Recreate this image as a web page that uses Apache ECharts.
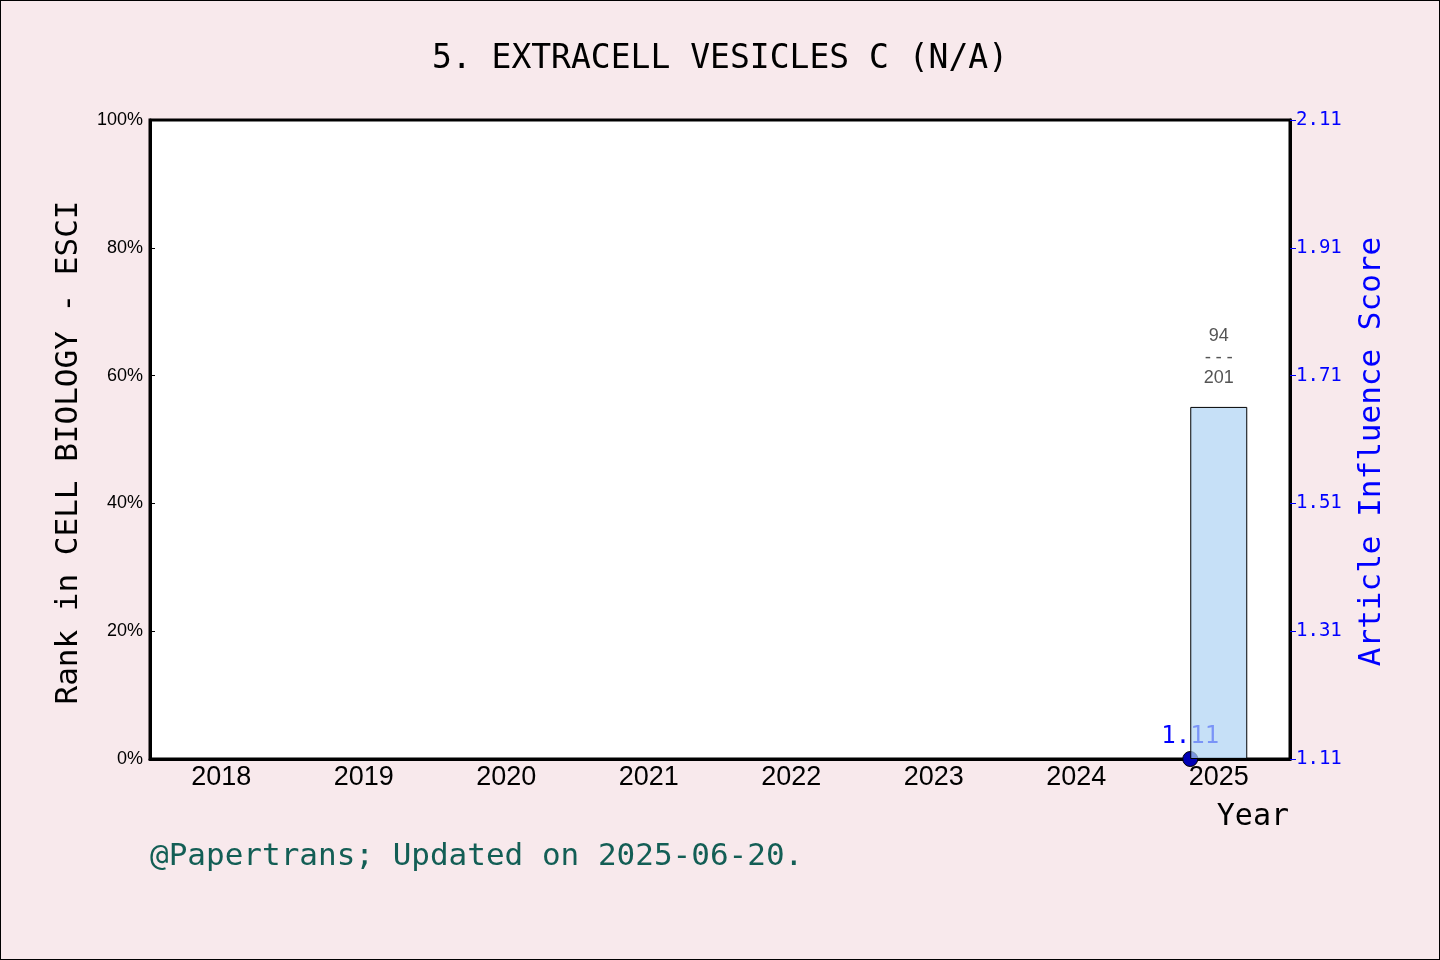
<!DOCTYPE html>
<html>
<head>
<meta charset="utf-8">
<title>Rank chart</title>
<script src="https://cdn.jsdelivr.net/npm/echarts@6/dist/echarts.min.js"></script>
<style>
	html, body { margin: 0; padding: 0; background: #f8e9ec; }
	#main { width: 1440px; height: 960px; box-sizing: border-box; border: 1px solid #000; }
</style>
</head>
<body>
<div id="main"></div>
<script>
//数据
var years = ['2018', '2019', '2020', '2021', '2022', '2023', '2024', '2025'];
var rankPct = [null, null, null, null, null, null, null, 55.1];
var rankNum = ['', '', '', '', '', '', '', '94'];
var rankTotal = ['', '', '', '', '', '', '', '201'];
var aisPoints = [[6.8, 1.11]];
var leftTicks = [0, 20, 40, 60, 80, 100];
var rightTicks = [1.11, 1.31, 1.51, 1.71, 1.91, 2.11];

var mono = '"DejaVu Sans Mono", "Liberation Mono", monospace';
var sans = '"Liberation Sans", Arial, sans-serif';

var myChart = echarts.init(document.getElementById('main'));

var option = {
	backgroundColor: '#f8e9ec',
	title: {
		text: '5. EXTRACELL VESICLES C (N/A)',
		left: 'center',
		top: 37,
		textStyle: { fontFamily: mono, fontSize: 33, fontWeight: 'normal', color: '#000' }
	},
	grid: {
		left: 149,
		right: 149,
		top: 119,
		bottom: 200,
		show: true,
		backgroundColor: '#fff',
		borderColor: '#000',
		borderWidth: 3
	},
	xAxis: [{
		type: 'category',
		data: years,
		axisLine: { onZero: false, lineStyle: { color: '#000', width: 3 } },
		axisTick: { inside: true, length: 6, lineStyle: { color: '#000', width: 1 } },
		axisLabel: { color: '#000', fontSize: 27, fontFamily: sans, margin: 5 },
		splitLine: { show: false }
	}, {
		//折线用的隐藏x轴
		type: 'value',
		min: -0.5,
		max: 7.5,
		show: false
	}],
	yAxis: [{
		type: 'value',
		min: leftTicks[0],
		max: leftTicks[leftTicks.length - 1],
		interval: 20,
		name: 'Rank in CELL BIOLOGY - ESCI',
		nameLocation: 'middle',
		nameGap: 66,
		nameTextStyle: { fontFamily: mono, fontSize: 31, color: '#000', padding: [0, 26, 0, 0] },
		axisLine: { show: true, onZero: false, lineStyle: { color: '#000', width: 3 } },
		axisTick: { show: true, inside: true, length: 5, lineStyle: { color: '#000' } },
		axisLabel: { formatter: '{value}%', color: '#000', fontSize: 18, fontFamily: sans, margin: 7 },
		splitLine: { show: false }
	}, {
		type: 'value',
		position: 'right',
		min: rightTicks[0],
		max: rightTicks[rightTicks.length - 1],
		interval: 0.2,
		name: 'Article Influence Score',
		nameLocation: 'middle',
		nameGap: 66,
		nameTextStyle: { fontFamily: mono, fontSize: 31, color: '#0000ff', padding: [0, 24, 0, 0] },
		axisLine: { show: true, onZero: false, lineStyle: { color: '#000', width: 3 } },
		axisTick: { show: true, length: 6, lineStyle: { color: '#0000ff' } },
		axisLabel: {
			color: '#0000ff', fontSize: 19, fontFamily: mono, margin: 6,
			formatter: function (v) { return v.toFixed(2); }
		},
		splitLine: { show: false }
	}],
	series: [{
		type: 'line',
		xAxisIndex: 1,
		yAxisIndex: 1,
		z: 1,
		clip: false,
		data: aisPoints,
		symbol: 'circle',
		symbolSize: 15,
		itemStyle: { color: '#0000b4', borderColor: '#000', borderWidth: 1 },
		lineStyle: { color: '#0000ff', width: 2 },
		label: {
			show: true,
			position: 'top',
			distance: 2,
			color: '#0000ff',
			fontSize: 24,
			fontFamily: mono,
			formatter: function (p) { return p.value[1].toFixed(2); }
		}
	}, {
		type: 'bar',
		z: 3,
		barWidth: '40%',
		data: rankPct,
		itemStyle: { color: 'rgba(174,211,244,0.7)', borderColor: '#000', borderWidth: 1 },
		label: {
			show: true,
			position: 'top',
			distance: 18,
			color: '#555',
			fontSize: 18,
			lineHeight: 21,
			fontFamily: sans,
			formatter: function (p) {
				if (!rankNum[p.dataIndex]) return '';
				return rankNum[p.dataIndex] + '\n{d|---}\n' + rankTotal[p.dataIndex];
			},
			rich: {
				d: { fontFamily: mono, fontSize: 18, lineHeight: 21, color: '#555' }
			}
		}
	}],
	graphic: [{
		type: 'text',
		right: 150,
		top: 801,
		z: 10,
		style: { text: 'Year', font: '30px ' + mono, fill: '#000' }
	}, {
		type: 'text',
		left: 149,
		top: 840,
		z: 10,
		style: { text: '@Papertrans; Updated on 2025-06-20.', font: '31px ' + mono, fill: '#135e55' }
	}]
};

//装载
myChart.setOption(option);
</script>
</body>
</html>
